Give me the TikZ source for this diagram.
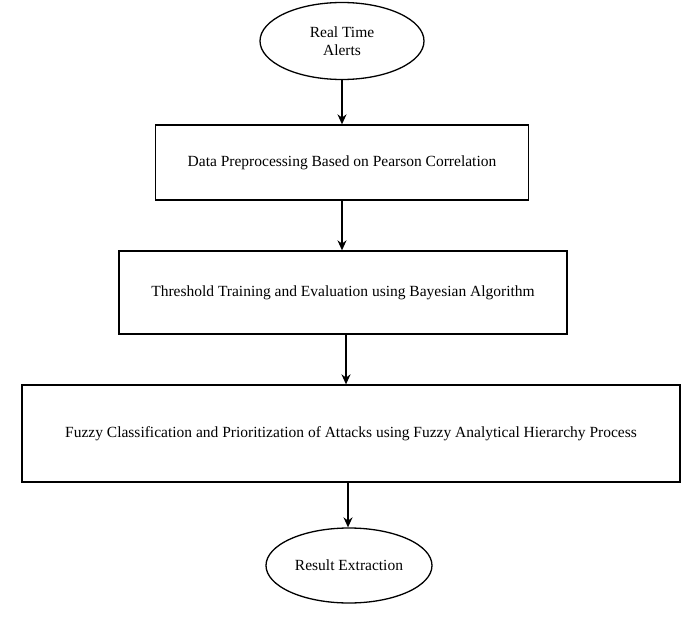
\documentclass[tikz,border=0pt]{standalone}
\usepackage{fontspec}
\setmainfont{Liberation Serif}
\usetikzlibrary{shapes.geometric,arrows.meta}
\begin{document}
\begin{tikzpicture}[x=1pt,y=-1pt,
  box/.style={draw,line width=1.3pt,rectangle,minimum height=#1,font=\fontsize{15.5}{18}\selectfont,inner sep=0pt},
  ell/.style={draw,line width=1.3pt,ellipse,minimum width=164pt,minimum height=77pt,align=center,inner sep=0pt,font=\fontsize{15.5}{18}\selectfont},
  arr/.style={-{Stealth[length=10pt,width=9pt]},line width=1.5pt}]
\useasboundingbox (0,0) rectangle (690,631);
\node[ell] (a) at (342,41) {Real Time\\Alerts};
\node[box=75pt,minimum width=373pt] (b) at (342,162.5) {Data Preprocessing Based on Pearson Correlation};
\node[box=83pt,minimum width=448pt] (c) at (343,292.5) {Threshold Training and Evaluation using Bayesian Algorithm};
\node[box=97pt,minimum width=658pt] (d) at (351,433.5) {Fuzzy Classification and Prioritization of Attacks using Fuzzy Analytical Hierarchy Process};
\node[ell,minimum width=166pt,minimum height=75pt] (e) at (349,565.5) {Result Extraction};
\draw[arr] (a.south) -- (a.south |- b.north);
\draw[arr] (b.south) -- (b.south |- c.north);
\draw[arr] ([xshift=3pt]c.south) -- ([xshift=3pt]c.south |- d.north);
\draw[arr] ([xshift=-3pt]d.south) -- ([xshift=-3pt]d.south |- e.north);
\end{tikzpicture}
\end{document}
